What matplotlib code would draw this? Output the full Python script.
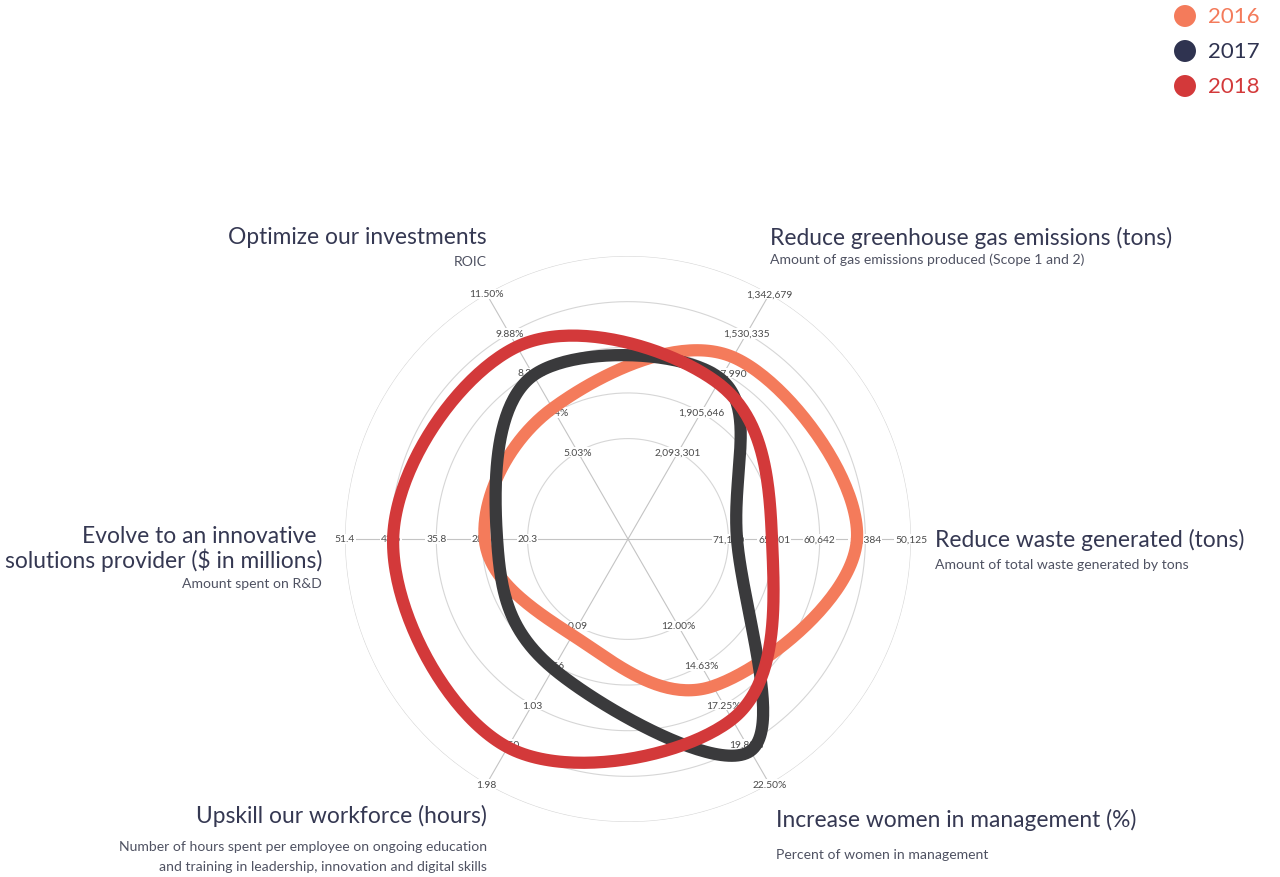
import numpy as np
import matplotlib
matplotlib.use("Agg")
import matplotlib.pyplot as plt

plt.rcParams["font.family"] = ["Lato", "DejaVu Sans"]

W, H = 1280, 878

years = ["2016", "2017", "2018"]
line_colors = ["#F47B5B", "#3A3A3C", "#D3393A"]
legend_colors = ["#F47B5B", "#2F3350", "#D3393A"]

# spokes, counter-clockwise from east
axis_angles = [0, 60, 120, 180, 240, 300]
tick_labels = [
    ["71,160", "65,901", "60,642", "55,384", "50,125"],
    ["2,093,301", "1,905,646", "1,717,990", "1,530,335", "1,342,679"],
    ["5.03%", "6.64%", "8.26%", "9.88%", "11.50%"],
    ["20.3", "28.1", "35.8", "43.6", "51.4"],
    ["0.09", "0.56", "1.03", "1.50", "1.98"],
    ["12.00%", "14.63%", "17.25%", "19.88%", "22.50%"],
]
tick_first = [71160, 2093301, 5.03, 20.3, 0.09, 12.00]
tick_last = [50125, 1342679, 11.50, 51.4, 1.98, 22.50]

# values per year (2016, 2017, 2018)
waste = [56350, 70170, 66140]
ghg = [1642700, 1745600, 1766200]
roic = [6.82, 8.17, 9.34]
rnd = [27.6, 25.5, 43.2]
upskill = [0.20, 0.60, 1.54]
women = [16.0, 20.3, 18.2]

OFFSET = 2.2          # inner ring sits this far from the centre
RMAX = OFFSET + 4     # outer ring
CX, CY, RPX = 628, 540, 283


def to_radius(v, i):
    return OFFSET + 4 * (v - tick_first[i]) / (tick_last[i] - tick_first[i])


def closed_spline(theta, r, tension=0.18, steps=50):
    pts = np.column_stack([r * np.cos(theta), r * np.sin(theta)])
    n = len(pts)
    t = np.linspace(0, 1, steps, endpoint=False)[:, None]
    out = []
    for i in range(n):
        p0, p3 = pts[i], pts[(i + 1) % n]
        c1 = p0 + tension * (pts[(i + 1) % n] - pts[i - 1])
        c2 = p3 - tension * (pts[(i + 2) % n] - pts[i])
        out.append((1 - t) ** 3 * p0 + 3 * (1 - t) ** 2 * t * c1
                   + 3 * (1 - t) * t ** 2 * c2 + t ** 3 * p3)
    out.append(pts[:1])
    xy = np.vstack(out)
    return np.unwrap(np.arctan2(xy[:, 1], xy[:, 0])), np.hypot(xy[:, 0], xy[:, 1])


fig = plt.figure(figsize=(W / 100, H / 100), dpi=100)

# overlay in pixel coordinates for headings and legend
over = fig.add_axes([0, 0, 1, 1])
over.set_xlim(0, W)
over.set_ylim(H, 0)
over.axis("off")
over.patch.set_visible(False)

ax = fig.add_axes([(CX - RPX) / W, (H - CY - RPX) / H, 2 * RPX / W, 2 * RPX / H],
                  projection="polar")
ax.set_ylim(0, RMAX)
ax.set_xticks([])
ax.set_yticks([])
ax.grid(False)
ax.spines["polar"].set_visible(False)
ax.patch.set_visible(False)

full = np.linspace(0, 2 * np.pi, 400)
for k in range(5):
    ax.plot(full, np.full_like(full, OFFSET + k), color="#d6d6d6", lw=0.8, zorder=1)
for a in axis_angles:
    th = np.deg2rad(a)
    ax.plot([th, th], [0, RMAX], color="#c4c4c4", lw=0.8, zorder=1)

for i, a in enumerate(axis_angles):
    th = np.deg2rad(a)
    for k, lab in enumerate(tick_labels[i]):
        ax.text(th, OFFSET + k, lab, ha="center", va="center", fontsize=7.4,
                color="#4a4a4a", zorder=2,
                bbox=dict(facecolor="white", edgecolor="none", pad=0.6))

series = [waste, ghg, roic, rnd, upskill, women]
thetas = np.deg2rad(axis_angles)
for j, year in enumerate(years):
    r = np.array([to_radius(series[i][j], i) for i in range(6)])
    th_s, r_s = closed_spline(thetas, r)
    ax.plot(th_s, r_s, color=line_colors[j], lw=8.8, solid_capstyle="round",
            solid_joinstyle="round", zorder=4 + j)

title_color = "#353852"
sub_color = "#4f5262"
headings = [
    ("Optimize our investments", ["ROIC"], 487, 238, "right"),
    ("Reduce greenhouse gas emissions (tons)",
     ["Amount of gas emissions produced (Scope 1 and 2)"], 770, 238, "left"),
    ("Reduce waste generated (tons)",
     ["Amount of total waste generated by tons"], 935, 540, "left"),
    ("Evolve to an innovative \nsolutions provider ($ in millions)",
     ["Amount spent on R&D"], 322, 549, "right"),
    ("Upskill our workforce (hours)",
     ["Number of hours spent per employee on ongoing education",
      "and training in leadership, innovation and digital skills"], 487, 816, "right"),
    ("Increase women in management (%)",
     ["Percent of women in management"], 776, 820, "left"),
]
sub_offsets = [24, 22, 25, 35, 31, 35]
for (title, subs, x, y, ha), off in zip(headings, sub_offsets):
    over.text(x, y, title, ha=ha, va="center", fontsize=16.4, color=title_color,
              linespacing=1.1)
    for m, s in enumerate(subs):
        over.text(x, y + off + 20 * m, s, ha=ha, va="center", fontsize=10.1,
                  color=sub_color)

for j, year in enumerate(years):
    yy = 17 + 35 * j
    over.scatter([1185], [yy], s=250, color=legend_colors[j], edgecolors="none")
    over.text(1208, yy, year, ha="left", va="center", fontsize=16,
              color=legend_colors[j])

fig.savefig("out.png", dpi=100)
